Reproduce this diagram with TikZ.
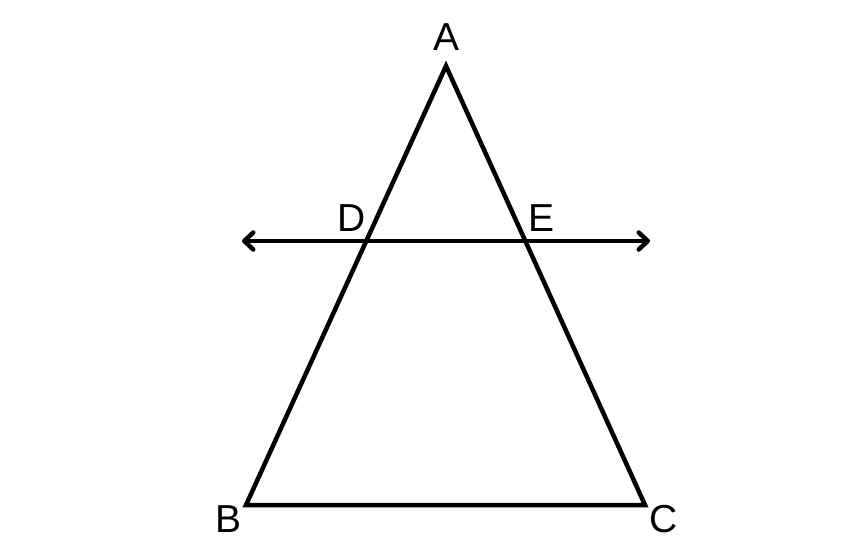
\documentclass[tikz,border=0pt]{standalone}
\usepackage{fontspec}
\setmainfont{Liberation Sans}
\usetikzlibrary{arrows.meta}
\begin{document}
\begin{tikzpicture}[x=1pt,y=-1pt,
  seg/.style={line width=4.5pt,line join=miter},
  lbl/.style={inner sep=0pt,font=\fontsize{39}{39}\selectfont},
  twoway/.style={line width=4.5pt,line cap=round,{Straight Barb[length=9pt,width=17pt,line cap=round,line join=round]}-{Straight Barb[length=9pt,width=17pt,line cap=round,line join=round]}}]
\useasboundingbox (0,0) rectangle (850,552);
\coordinate (A) at (446,66);
\coordinate (B) at (246,505);
\coordinate (C) at (645,505);
\coordinate (L) at (242,241);
\coordinate (R) at (650,241);
\draw[seg] (A) -- (B) -- (C) -- cycle;
\draw[twoway] (L) -- (R);
\node[lbl] (la) at (446,37) {A};
\node[lbl] (lb) at (229,519) {B};
\node[lbl] (lc) at (664,519) {C};
\node[lbl] (ld) at (352,218) {D};
\node[lbl] (le) at (541,218) {E};
\end{tikzpicture}
\end{document}
